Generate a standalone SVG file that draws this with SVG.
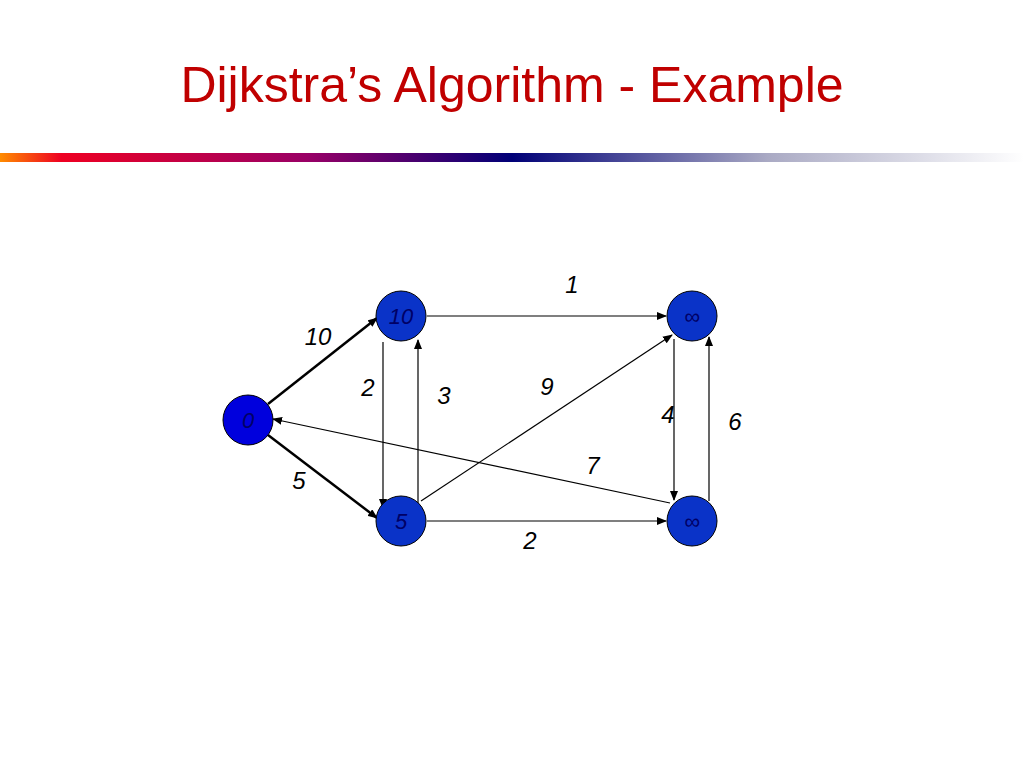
<svg xmlns="http://www.w3.org/2000/svg" width="1024" height="768" viewBox="0 0 1024 768">
<defs>
<linearGradient id="bar" x1="0" x2="1" y1="0" y2="0">
<stop offset="0" stop-color="#ff8c00"/><stop offset="0.06" stop-color="#ee0022"/><stop offset="0.3" stop-color="#990066"/><stop offset="0.5" stop-color="#000077"/><stop offset="0.75" stop-color="#aaaac4"/><stop offset="1" stop-color="#ffffff"/>
</linearGradient>
<marker id="ah" markerWidth="10" markerHeight="8" refX="9" refY="4" orient="auto" markerUnits="userSpaceOnUse"><path d="M0,0 L10,4 L0,8 z" fill="#000"/></marker>
</defs>
<style>
.n{stroke:#000;stroke-width:1}
.nt{font-family:"Liberation Sans",Arial,sans-serif;font-style:italic;font-size:22px;fill:#000066;text-anchor:middle}
.l{font-family:"Liberation Sans",Arial,sans-serif;font-style:italic;font-size:24px;fill:#000;text-anchor:middle}
.e{stroke:#000;stroke-width:1.2;fill:none;marker-end:url(#ah)}
.t{stroke-width:2.5}
</style>
<rect width="1024" height="768" fill="#fff"/>
<text x="512" y="102" font-family="Liberation Sans,Arial,sans-serif" font-size="50" fill="#c00000" text-anchor="middle">Dijkstra’s Algorithm - Example</text>
<rect x="0" y="153" width="1024" height="9" fill="url(#bar)"/>
<g id="edges">
<line class="e t" x1="268" y1="404" x2="377" y2="318"/>
<line class="e t" x1="268" y1="435" x2="377" y2="518"/>
<line class="e" x1="427" y1="316" x2="666" y2="316"/>
<line class="e" x1="383" y1="342" x2="383" y2="508"/>
<line class="e" x1="418" y1="509" x2="418" y2="340"/>
<line class="e" x1="421" y1="501" x2="672" y2="335"/>
<line class="e" x1="670" y1="503" x2="273" y2="419"/>
<line class="e" x1="427" y1="521" x2="666" y2="521"/>
<line class="e" x1="674" y1="339" x2="674" y2="500"/>
<line class="e" x1="709" y1="501" x2="709" y2="337"/>
</g>
<g id="labels">
<text class="l" x="572" y="293">1</text>
<text class="l" x="318" y="345">10</text>
<text class="l" x="368" y="396">2</text>
<text class="l" x="444" y="404">3</text>
<text class="l" x="547" y="395">9</text>
<text class="l" x="668" y="423">4</text>
<text class="l" x="735" y="430">6</text>
<text class="l" x="593" y="474">7</text>
<text class="l" x="299" y="489">5</text>
<text class="l" x="530" y="549">2</text>
</g>
<g id="n0"><circle class="n" cx="248" cy="420" r="25" fill="#0000dd"/><text class="nt" x="248" y="428">0</text></g>
<g id="n10"><circle class="n" cx="401" cy="316" r="25" fill="#0a33c8"/><text class="nt" x="401" y="324">10</text></g>
<g id="n5"><circle class="n" cx="401" cy="521" r="25" fill="#0a33c8"/><text class="nt" x="401" y="529">5</text></g>
<g id="nA"><circle class="n" cx="692" cy="316" r="25" fill="#0a33c8"/><text class="nt" x="692" y="324">∞</text></g>
<g id="nB"><circle class="n" cx="692" cy="521" r="25" fill="#0a33c8"/><text class="nt" x="692" y="529">∞</text></g>
</svg>
